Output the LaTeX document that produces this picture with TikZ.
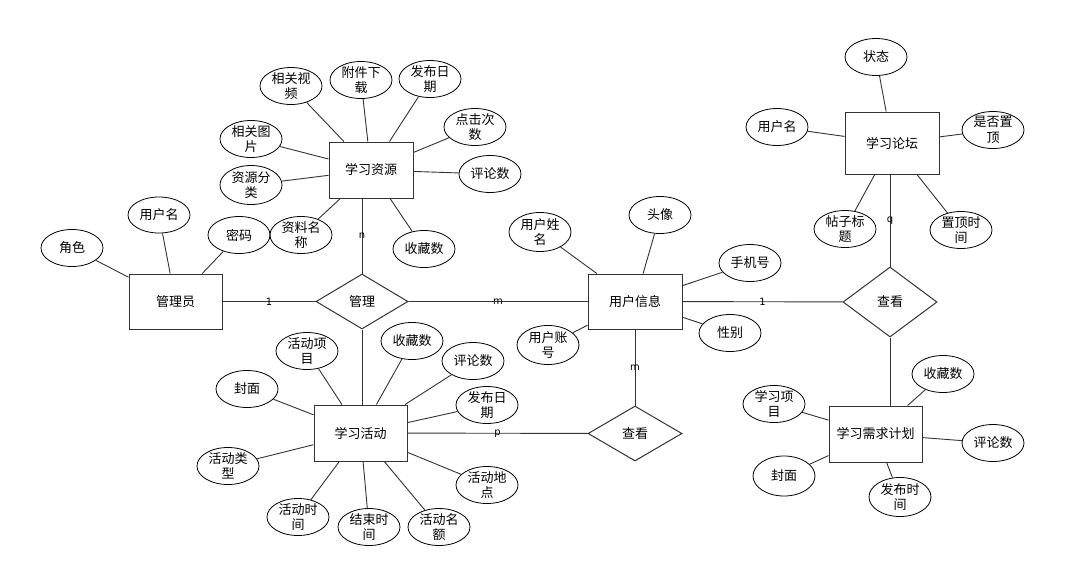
\documentclass[tikz,border=0pt]{standalone}
\usepackage{fontspec}
\newfontfamily\cjk{Noto Sans CJK SC}
\newfontfamily\lbl{DejaVu Sans}
\usetikzlibrary{shapes.geometric}
\begin{document}
\begin{tikzpicture}[x=1pt,y=-1pt,
  every node/.style={font=\cjk\fontsize{13}{15.5}\selectfont},
  conn/.style={draw=black!80, line width=0.9pt},
  entity/.style={draw=black!80, line width=1pt, rectangle, minimum width=93pt, minimum height=56pt, inner sep=0pt},
  relbox/.style={draw=black!80, line width=1pt, diamond, minimum width=92pt, minimum height=55pt, inner sep=0pt},
  attr/.style={draw=black, line width=0.8pt, ellipse, minimum width=62pt, minimum height=37pt, inner sep=0pt, label={[attrtext]center:#1}},
  attrtext/.style={align=center, inner sep=0pt, font=\cjk\fontsize{13}{15.5}\selectfont},
  card/.style={font=\lbl\fontsize{10}{12}\selectfont, inner sep=0pt}
]
\fill[white] (0,0) rectangle (1084,571);
\useasboundingbox (0,0) rectangle (1084,571);

% entities
\node[entity, minimum width=84pt] (res) at (371,170) {学习资源};
\node[entity, minimum height=55pt] (adm) at (175.5,301.5) {管理员};
\node[entity, minimum width=94pt, minimum height=55pt] (ui) at (635,301.5) {用户信息};
\node[entity] (act) at (360.5,433) {学习活动};
\node[entity, minimum width=94pt, minimum height=62pt] (forum) at (892,143) {学习论坛};
\node[entity] (plan) at (875.5,434) {学习需求计划};

% relationships
\node[relbox] (mg) at (362,301.5) {管理};
\node[relbox, minimum width=94pt, minimum height=70pt] (ck1) at (890,302) {查看};
\node[relbox, minimum width=94pt] (ck2) at (635,433.5) {查看};

% admin attributes
\node[attr={角色}] (a1) at (72,248) {};
\node[attr={用户名}, minimum height=36pt] (a2) at (159,215) {};
\node[attr={密码}] (a3) at (239,235) {};

% resource attributes
\node[attr={相关视\\频}] (r1) at (291,86) {};
\node[attr={附件下\\载}] (r2) at (361,80) {};
\node[attr={发布日\\期}] (r3) at (430,79) {};
\node[attr={点击次\\数}] (r4) at (475,127) {};
\node[attr={评论数}] (r5) at (490,174) {};
\node[attr={收藏数}] (r6) at (424,249) {};
\node[attr={资料名\\称}] (r7) at (301,235) {};
\node[attr={资源分\\类}, minimum height=39pt] (r8) at (251,185) {};
\node[attr={相关图\\片}] (r9) at (251,139) {};

% user info attributes
\node[attr={用户姓\\名}, minimum height=39pt] (u1) at (540,232) {};
\node[attr={头像}] (u2) at (660,215) {};
\node[attr={手机号}] (u3) at (750,263) {};
\node[attr={性别}] (u4) at (730,333) {};
\node[attr={用户账\\号}, minimum height=39pt] (u5) at (548,345) {};

% forum attributes
\node[attr={状态}] (f1) at (876,57) {};
\node[attr={用户名}] (f2) at (777,127) {};
\node[attr={是否置\\顶}] (f3) at (993,130) {};
\node[attr={帖子标\\题}] (f4) at (845,229) {};
\node[attr={置顶时\\间}] (f5) at (961,230) {};

% plan attributes
\node[attr={收藏数}] (p1) at (943,374) {};
\node[attr={学习项\\目}] (p2) at (774,404) {};
\node[attr={评论数}] (p3) at (993,443) {};
\node[attr={封面}, minimum height=40pt] (p4) at (784,476) {};
\node[attr={发布时\\间}, minimum height=39pt] (p5) at (900,497) {};

% activity attributes
\node[attr={活动项\\目}] (c1) at (307,351) {};
\node[attr={收藏数}] (c2) at (412,341) {};
\node[attr={评论数}] (c3) at (473,361) {};
\node[attr={发布日\\期}] (c4) at (487,405) {};
\node[attr={封面}] (c5) at (247,389) {};
\node[attr={活动类\\型}] (c6) at (228,466) {};
\node[attr={活动时\\间}] (c7) at (298,517) {};
\node[attr={结束时\\间}] (c8) at (369,527) {};
\node[attr={活动名\\额}] (c9) at (439,527) {};
\node[attr={活动地\\点}] (c10) at (487,485) {};

% attribute connectors
\foreach \a in {a1,a2,a3} \draw[conn] (\a) -- (adm);
\foreach \a in {r1,r2,r3,r4,r5,r6,r7,r8,r9} \draw[conn] (\a) -- (res);
\foreach \a in {u1,u2,u3,u4,u5} \draw[conn] (\a) -- (ui);
\foreach \a in {f1,f2,f3,f4,f5} \draw[conn] (\a) -- (forum);
\foreach \a in {p1,p2,p3,p4,p5} \draw[conn] (\a) -- (plan);
\foreach \a in {c1,c2,c3,c4,c5,c6,c7,c8,c9,c10} \draw[conn] (\a) -- (act);

% relationship connectors
\draw[conn] (adm) -- node[card] {1} (mg);
\draw[conn] (mg) -- node[card] {m} (ui);
\draw[conn] (mg.north |- res.south) -- node[card] {n} (mg.north);
\draw[conn] (mg.south) -- (mg.south |- act.north);
\draw[conn] (ui) -- node[card] {1} (ck1);
\draw[conn] (ck1.north |- forum.south) -- node[card] {q} (ck1.north);
\draw[conn] (ck1.south) -- (ck1.south |- plan.north);
\draw[conn] (ui) -- node[card] {m} (ck2);
\draw[conn] (act) -- node[card] {p} (ck2);
\end{tikzpicture}
\end{document}
